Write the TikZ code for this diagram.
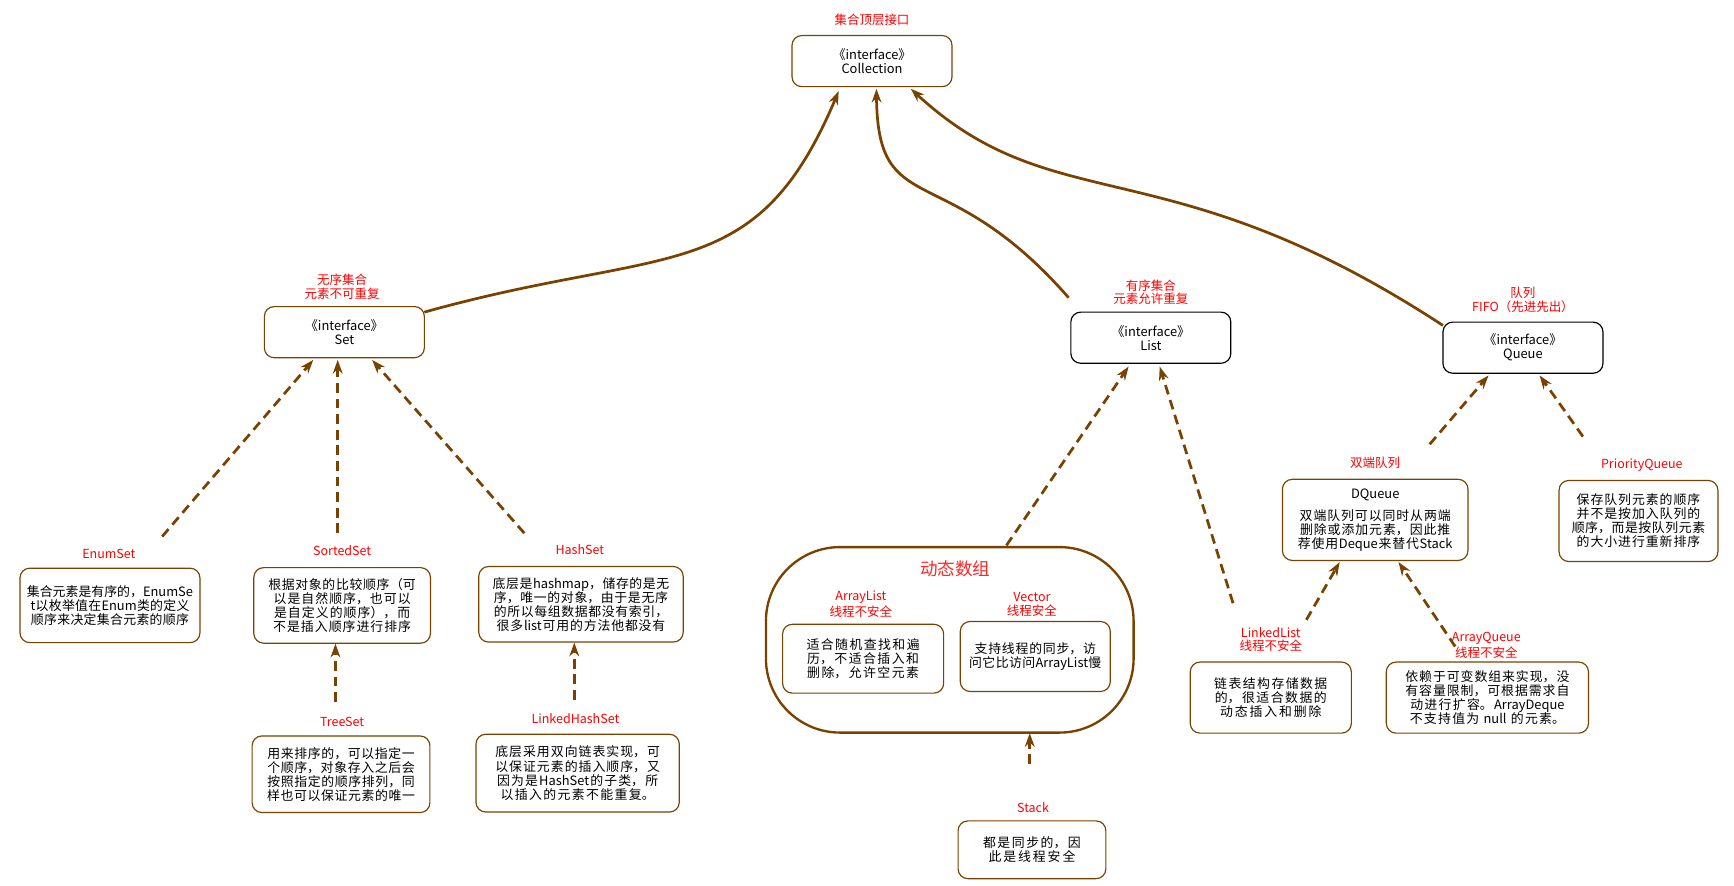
\documentclass[tikz,border=0pt]{standalone}
\usepackage{fontspec}
\setmainfont{Noto Sans CJK SC}
\XeTeXlinebreaklocale "zh"
\XeTeXlinebreakskip=0pt plus 1pt
\usetikzlibrary{arrows.meta}
\definecolor{brn}{HTML}{7A4200}
\tikzset{
 box/.style={draw=brn,rounded corners=5pt,line width=0.6pt,inner sep=2pt,align=center,font=\fontsize{6.6}{7.2}\selectfont},
 bbox/.style={box,draw=black},
 lbl/.style={text=red,align=center,font=\fontsize{6.4}{6.8}\selectfont},
 solidarr/.style={draw=brn,line width=1.4pt,-{Stealth[length=7pt,width=5pt]}},
 dasharr/.style={draw=brn,line width=1.4pt,dash pattern=on 5pt off 3pt,-{Stealth[length=7pt,width=5pt]}},
}
\begin{document}
\begin{tikzpicture}[x=0.02cm,y=-0.02cm]
\useasboundingbox (0,0) rectangle (1561,797);
% top
\node[lbl] (tl) at (785,18) {集合顶层接口};
\node[box,minimum width=144*0.02cm,minimum height=46*0.02cm] (col) at (785,55) {《interface》\\Collection};
\node[lbl] (setl) at (308,258) {无序集合\\元素不可重复};
\node[box,minimum width=144*0.02cm,minimum height=46*0.02cm] (set) at (310,299) {《interface》\\Set};
\node[lbl] (listl) at (1036,263) {有序集合\\元素允许重复};
\node[bbox,minimum width=144*0.02cm,minimum height=46*0.02cm] (list) at (1036,304) {《interface》\\List};
\node[lbl] (ql) at (1371,270) {队列\\FIFO（先进先出）};
\node[bbox,minimum width=144*0.02cm,minimum height=46*0.02cm] (queue) at (1371,313) {《interface》\\Queue};
\coordinate (s1) at (382,281); \coordinate (l1) at (962,268); \coordinate (q1) at (1299,293);
\draw[solidarr] (s1) .. controls (600,220) and (680,260) .. (755,82);
\draw[solidarr] (l1) .. controls (850,140) and (790,200) .. (789,80);
\draw[solidarr] (q1) .. controls (1050,130) and (950,200) .. (820,80);
% set children
\node[lbl] (el) at (98,499) {EnumSet};
\node[box,minimum width=162*0.02cm,minimum height=67*0.02cm,text width=150*0.02cm] (enum) at (99,545) {集合元素是有序的，EnumSe t以枚举值在Enum类的定义顺序来决定集合元素的顺序\\[6pt]};
\node[lbl] (sl) at (308,496) {SortedSet};
\node[box,minimum width=159*0.02cm,minimum height=68*0.02cm,text width=148*0.02cm] (sorted) at (308,545) {根据对象的比较顺序（可以是自然顺序，也可以是自定义的顺序），而不是插入顺序进行排序\\[3pt]};
\node[lbl] (hl) at (522,495) {HashSet};
\node[box,minimum width=184*0.02cm,minimum height=68*0.02cm,text width=172*0.02cm] (hash) at (523,544) {底层是hashmap，储存的是无序，唯一的对象，由于是无序的所以每组数据都没有索引，很多list可用的方法他都没有\\[3pt]};
\node[lbl] (tsl) at (308,650) {TreeSet};
\node[box,minimum width=160*0.02cm,minimum height=69*0.02cm,text width=148*0.02cm] (tree) at (307,697) {用来排序的，可以指定一个顺序，对象存入之后会按照指定的顺序排列，同样也可以保证元素的唯一\\[1pt]};
\node[lbl] (lhl) at (518,647) {LinkedHashSet};
\node[box,minimum width=183*0.02cm,minimum height=70*0.02cm,text width=172*0.02cm] (lhash) at (520,696) {底层采用双向链表实现，可以保证元素的插入顺序，又因为是HashSet的子类，所以插入的元素不能重复。\\[3pt]};
\coordinate (e0) at (146,483); \coordinate (so0) at (304,480); \coordinate (h0) at (472,480);
\draw[dasharr] (e0) -- (282,324);
\draw[dasharr] (so0) -- (304,324);
\draw[dasharr] (h0) -- (335,324);
\coordinate (t0) at (302,632); \coordinate (lh0) at (517,630);
\draw[dasharr] (t0) -- (sorted.south -| t0);
\draw[dasharr] (lh0) -- (hash.south -| lh0);
% dynamic array
\node[draw=brn,line width=1.2pt,rounded corners=38pt,minimum width=331*0.02cm,minimum height=167*0.02cm] (dyn) at (855,576) {};
\node[text=red!85!white,font=\fontsize{9}{10}\selectfont] (dynl) at (860,512) {动态数组};
\node[lbl] (all) at (775,544) {ArrayList\\线程不安全};
\node[box,minimum width=145*0.02cm,minimum height=62*0.02cm,text width=136*0.02cm] (al) at (777,593) {适合随机查找和遍历，不适合插入和删除，允许空元素\\[6pt]};
\node[lbl] (vl) at (929,544) {Vector\\线程安全};
\node[box,minimum width=133*0.02cm,minimum height=63*0.02cm,text width=128*0.02cm] (vec) at (932,591) {支持线程的同步，访问它比访问ArrayList慢\\[8pt]};
\node[lbl] (stl) at (930,727) {Stack};
\node[box,minimum width=133*0.02cm,minimum height=52*0.02cm,text width=124*0.02cm] (stack) at (929,765) {都是同步的，因此是线程安全\\[2pt]};
\coordinate (st0) at (927,688);
\draw[dasharr] (st0) -- (927,660);
\coordinate (d0) at (906,491);
\draw[dasharr] (d0) -- (1016,330);
% linked list
\node[lbl] (lll) at (1144,576) {LinkedList\\线程不安全};
\node[box,minimum width=145*0.02cm,minimum height=64*0.02cm,text width=136*0.02cm] (ll) at (1144,628) {链表结构存储数据的，很适合数据的动态插入和删除\\[10pt]};
\coordinate (ll0) at (1110,543);
\draw[dasharr] (ll0) -- (1044,330);
% queue children
\node[lbl] (dql) at (1238,417) {双端队列};
\node[box,minimum width=167*0.02cm,minimum height=73*0.02cm,text width=158*0.02cm] (dq) at (1238,468) {DQueue\\[4pt]双端队列可以同时从两端删除或添加元素，因此推荐使用Deque来替代Stack\\[2pt]};
\node[lbl] (pql) at (1478,419) {PriorityQueue};
\node[box,minimum width=143*0.02cm,minimum height=73*0.02cm,text width=134*0.02cm] (pq) at (1475,469) {保存队列元素的顺序并不是按加入队列的顺序，而是按队列元素的大小进行重新排序\\[3pt]};
\node[lbl] (aql) at (1338,581) {ArrayQueue\\线程不安全};
\node[box,minimum width=182*0.02cm,minimum height=64*0.02cm,text width=170*0.02cm] (aq) at (1339,628) {依赖于可变数组来实现，没有容量限制，可根据需求自动进行扩容。ArrayDeque不支持值为 null 的元素。\\[5pt]};
\coordinate (dq0) at (1287,400); \coordinate (pq0) at (1425,393);
\draw[dasharr] (dq0) -- (1340,338);
\draw[dasharr] (pq0) -- (1386,338);
\coordinate (ll1) at (1176,558); \coordinate (aq0) at (1310,582);
\draw[dasharr] (ll1) -- (1206,506);
\draw[dasharr] (aq0) -- (1259,506);
\end{tikzpicture}
\end{document}
